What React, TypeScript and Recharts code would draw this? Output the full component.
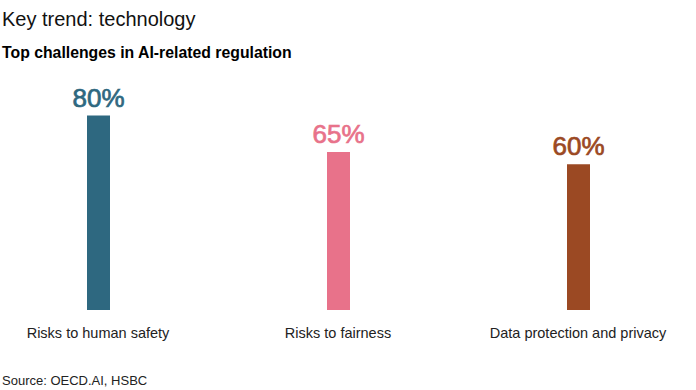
import React from 'react';
import { BarChart, Bar, XAxis, YAxis, LabelList, Cell } from 'recharts';

const categories = ['Risks to human safety', 'Risks to fairness', 'Data protection and privacy'];
const shares = [80, 65, 60];
const barColors = ['#2E6880', '#E8728A', '#9B4923'];

const TITLE = 'Key trend: technology';
const SUBTITLE = 'Top challenges in AI-related regulation';
const SOURCE = 'Source: OECD.AI, HSBC';

const FONT = '"Liberation Sans", Arial, sans-serif';

const data = categories.map((name, i) => ({ name, value: shares[i], color: barColors[i] }));

const ValueLabel = (props: any) => {
  const { x, y, width, index } = props;
  return (
    <text
      x={x + width / 2}
      y={y - 9}
      textAnchor="middle"
      fontSize={26}
      fontFamily={FONT}
      fill={barColors[index]}
      stroke={barColors[index]}
      strokeWidth={0.7}
    >
      {`${shares[index]}%`}
    </text>
  );
};

const App: React.FC = () => {
  return (
    <div style={{ position: 'absolute', top: 0, left: 0, width: 696, height: 390, overflow: 'hidden', background: '#fff' }}>
      <div style={{ position: 'absolute', top: 0, left: -22 }}>
        <BarChart width={720} height={390} data={data} margin={{ top: 67, right: 0, bottom: 0, left: 0 }}>
          <XAxis
            dataKey="name"
            axisLine={false}
            tickLine={false}
            tickSize={0}
            tickMargin={18}
            height={80}
            interval={0}
            tick={{ fontSize: 14.5, fontFamily: FONT, fill: '#222' }}
          />
          <YAxis hide domain={[0, 100]} />
          <Bar dataKey="value" barSize={23} isAnimationActive={false}>
            {data.map((d, i) => (
              <Cell key={d.name} fill={d.color} />
            ))}
            <LabelList dataKey="value" content={ValueLabel} />
          </Bar>
        </BarChart>
      </div>
      <svg width={696} height={390} style={{ position: 'absolute', top: 0, left: 0, pointerEvents: 'none' }}>
        <text x={2} y={26} fontSize={20} fontFamily={FONT} fill="#111">{TITLE}</text>
        <text x={2} y={58} fontSize={15.8} fontWeight="bold" fontFamily={FONT} fill="#000">{SUBTITLE}</text>
        <text x={2} y={385} fontSize={13} fontFamily={FONT} fill="#222">{SOURCE}</text>
      </svg>
    </div>
  );
};

export default App;
